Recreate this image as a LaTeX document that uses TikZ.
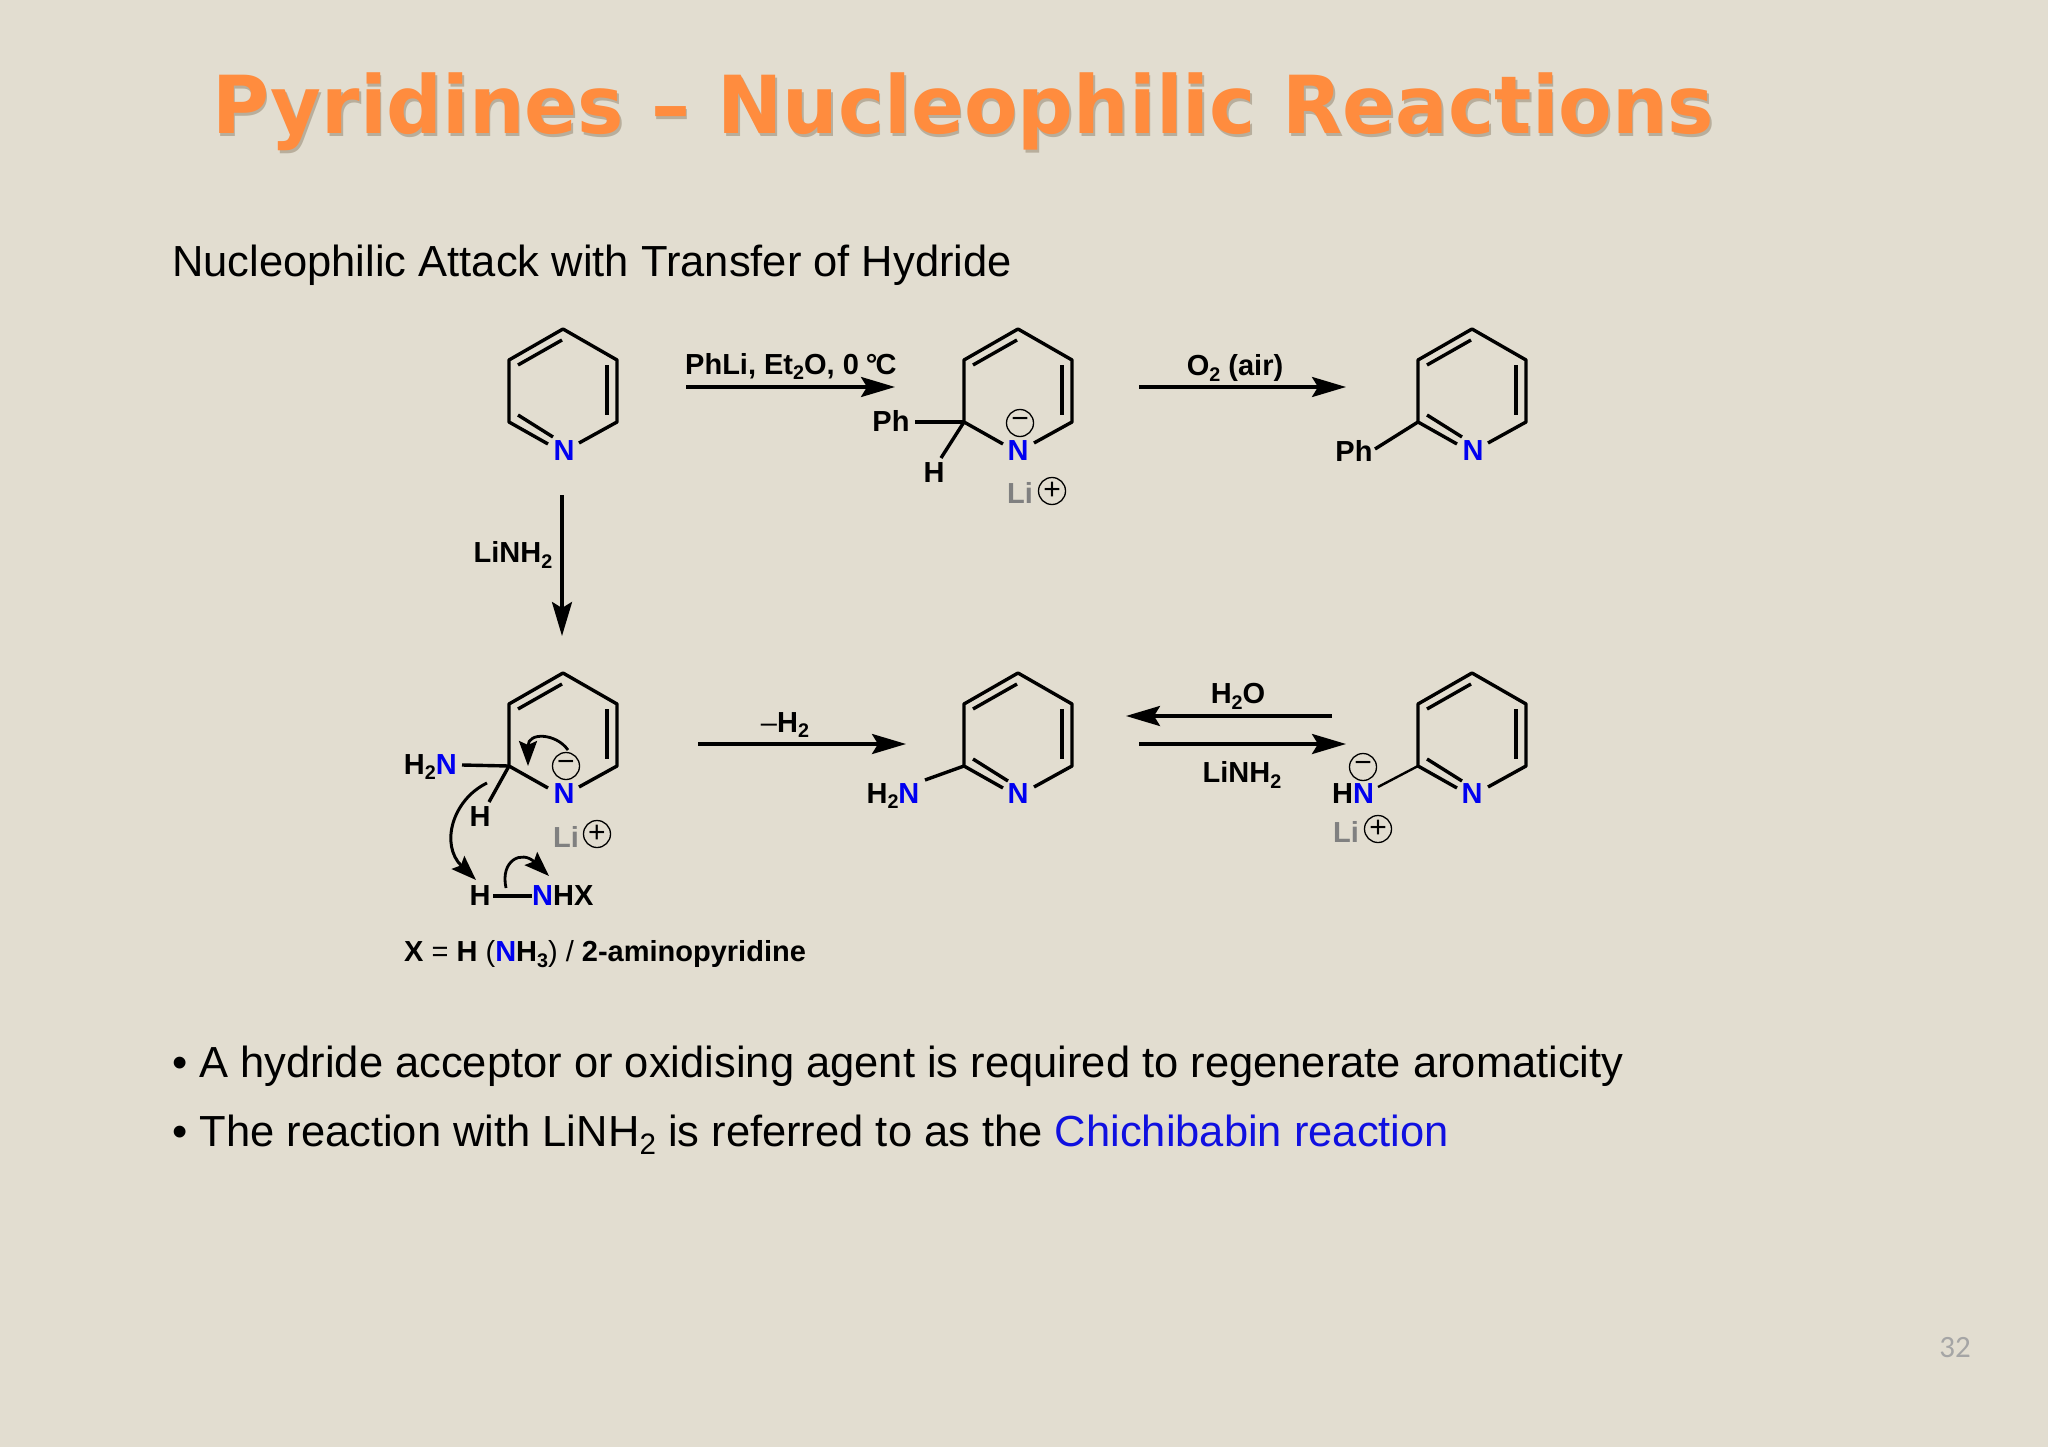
\documentclass[tikz,border=0pt]{standalone}
\usepackage{fontspec}
\setmainfont{Liberation Sans}
\newfontfamily\titlefont{DejaVu Sans}
\newfontfamily\numfont{Carlito}
\usetikzlibrary{arrows.meta}
\definecolor{bgcol}{HTML}{E2DDD0}
\definecolor{titlecol}{HTML}{FF8C3E}
\definecolor{shadowcol}{HTML}{B8AE9C}
\definecolor{chemblue}{HTML}{0000F0}
\definecolor{ligray}{HTML}{808080}
\definecolor{linkblue}{HTML}{1010E0}
\definecolor{numgray}{HTML}{A5A5A5}
\newcommand{\lsub}[1]{\raisebox{-.2em}{\scalebox{.68}{#1}}}
\newcommand{\nbl}{\textcolor{chemblue}{N}}
\newcommand{\titlestr}{\scalebox{.975}[1]{Pyridines – Nucleophilic Reactions}}
\tikzset{
  chem/.style={font=\fontsize{29}{29}\selectfont\bfseries, inner sep=0pt},
  lit/.style={chem, text=ligray},
  charge/.style={circle, draw=black, line width=1.3pt, minimum size=27pt, inner sep=0pt, font=\fontsize{30}{30}\selectfont},
  bond/.style={line width=3.4pt, line cap=butt, line join=round, draw=black},
  rxn/.style={line width=3.4pt, -{Stealth[length=34pt,width=20pt,inset=6pt]}},
  push/.style={line width=2.8pt, -{Stealth[length=25pt,width=18pt,inset=4pt]}},
  para/.style={anchor=base west, inner sep=0pt, font=\fontsize{43.5}{43.5}\selectfont},
  titletext/.style={anchor=base west, inner sep=0pt, font=\fontsize{80}{80}\selectfont\titlefont\bfseries}
}
\newcommand{\ringbase}[3]{%
  \begin{scope}[shift={(#2,#3)}]
    \coordinate (#1t) at (0,0);
    \coordinate (#1ur) at (54,31);
    \coordinate (#1lr) at (54,93);
    \coordinate (#1ll) at (-54,93);
    \coordinate (#1ul) at (-54,31);
    \coordinate (#1ne) at (16,114);
    \coordinate (#1nw) at (-15,115);
    \draw[bond] (#1ne) -- (#1lr) -- (#1ur) -- (#1t) -- (#1ul) -- (#1ll) -- (#1nw);
    \draw[bond] (-45,36) -- (-1,11);
    \draw[bond] (44,36) -- (44,86);
  \end{scope}}
\newcommand{\ringdouble}[3]{%
  \ringbase{#1}{#2}{#3}%
  \begin{scope}[shift={(#2,#3)}]
    \draw[bond] (-45,86) -- (-10,108);
  \end{scope}}
\begin{document}
\begin{tikzpicture}[x=1pt,y=-1pt]
\useasboundingbox (0,0) rectangle (2048,1447);
\fill[bgcol] (0,0) rectangle (2048,1447);

% title
\node[titletext, text=shadowcol] (titleshadow) at (213.5,136.5) {\titlestr};
\node[titletext, text=titlecol] (title) at (212,134) {\titlestr};
\node[para] (subtitle) at (172,277) {Nucleophilic Attack with Transfer of Hydride};

% rings
\ringdouble{a}{563}{329}
\ringbase{b}{1018}{329}
\ringdouble{c}{1472}{329}
\ringbase{d}{563}{673}
\ringdouble{e}{1018}{673}
\ringdouble{f}{1472}{673}

% top row
\node[chem] (an) at (564,451) {\nbl};
\coordinate (a1s) at (686,387); \coordinate (a1e) at (895,387);
\draw[rxn] (a1s) -- (a1e);
\node[chem, anchor=base west] (a1l) at (685,374) {PhLi, Et\lsub{2}O, 0 \kern-1pt°\kern-2pt C};
\node[chem] (bn) at (1018,451) {\nbl};
\node[charge] (bminus) at (1020,423) {−};
\node[chem] (bph) at (891,421) {Ph};
\node[chem] (bh) at (934,473) {H};
\coordinate (bhc) at (941,458);
\coordinate (bphe) at (915,422);
\draw[bond] (bphe) -- (bll);
\draw[bond] (bll) -- (bhc);
\node[lit] (bli) at (1020,493) {Li};
\node[charge] (bplus) at (1052,491) {+};
\coordinate (a2s) at (1139,387); \coordinate (a2e) at (1346,387);
\draw[rxn] (a2s) -- (a2e);
\node[chem] (a2l) at (1235,368) {O\lsub{2} (air)};
\node[chem] (cn) at (1473,451) {\nbl};
\node[chem] (cph) at (1354,451) {Ph};
\coordinate (cphe) at (1375,449);
\draw[bond] (cphe) -- (cll);

% vertical arrow
\coordinate (a3s) at (562,495); \coordinate (a3e) at (562,636);
\draw[rxn] (a3s) -- (a3e);
\node[chem] (a3l) at (513,555) {LiNH\lsub{2}};

% bottom left
\node[chem] (dn) at (564,794) {\nbl};
\node[charge] (dminus) at (566,766) {−};
\node[chem, anchor=east] (dnh) at (457,767) {H\lsub{2}\nbl};
\coordinate (dnhe) at (462,765);
\draw[bond] (dnhe) -- (dll);
\node[chem] (dh) at (480,817) {H};
\coordinate (dhc) at (489,802);
\draw[bond] (dll) -- (dhc);
\node[lit] (dli) at (566,837) {Li};
\node[charge] (dplus) at (597,834) {+};
\coordinate (p1s) at (568,750); \coordinate (p1e) at (528,766);
\draw[push] (p1s) .. controls (556,733) and (528,732) .. (p1e);
\coordinate (p2s) at (487,783); \coordinate (p2e) at (476,880);
\draw[push, line width=3pt] (p2s) .. controls (452,800) and (440,845) .. (p2e);
\node[chem] (hh) at (480,896) {H};
\node[chem, anchor=west] (nhx) at (532,896) {\nbl HX};
\coordinate (hhe) at (493,896);
\draw[bond] (hhe) -- (nhx.west);
\coordinate (p3s) at (506,888); \coordinate (p3e) at (549,876);
\draw[push] (p3s) .. controls (500,860) and (522,850) .. (p3e);
\node[chem, anchor=west] (xeq) at (404,954) {X {\mdseries=} H {\mdseries(}\nbl H\lsub{3}{\mdseries)} {\mdseries/} 2-aminopyridine};

% bottom middle
\coordinate (a4s) at (698,744); \coordinate (a4e) at (906,744);
\draw[rxn] (a4s) -- (a4e);
\node[chem] (a4l) at (785,725) {{\mdseries –}H\lsub{2}};
\node[chem] (en) at (1018,794) {\nbl};
\node[chem] (enh) at (893,796) {H\lsub{2}\nbl};
\coordinate (enhe) at (925,780);
\draw[bond] (enhe) -- (ell);

% equilibrium arrows
\coordinate (a5s) at (1332,716); \coordinate (a5e) at (1126,716);
\draw[rxn] (a5s) -- (a5e);
\node[chem] (a5l) at (1238,696) {H\lsub{2}O};
\coordinate (a6s) at (1139,744); \coordinate (a6e) at (1346,744);
\draw[rxn] (a6s) -- (a6e);
\node[chem] (a6l) at (1242,775) {LiNH\lsub{2}};

% bottom right
\node[chem] (fn) at (1472,794) {\nbl};
\node[charge] (fminus) at (1363,767) {−};
\node[chem] (fhn) at (1353,794) {H\nbl};
\coordinate (fhne) at (1378,787);
\draw[bond, line width=2.4pt] (fhne) -- (fll);
\node[lit] (fli) at (1346,832) {Li};
\node[charge] (fplus) at (1378,829) {+};

% bullets
\node[para] (b1) at (172,1077) {• A hydride acceptor or oxidising agent is required to regenerate aromaticity};
\node[para] (b2) at (172,1146) {• The reaction with LiNH\lsub{2} is referred to as the \textcolor{linkblue}{Chichibabin reaction}};

\node[text=numgray, inner sep=0pt, font=\fontsize{31}{31}\selectfont\numfont] (pg) at (1955,1348) {32};
\end{tikzpicture}
\end{document}
